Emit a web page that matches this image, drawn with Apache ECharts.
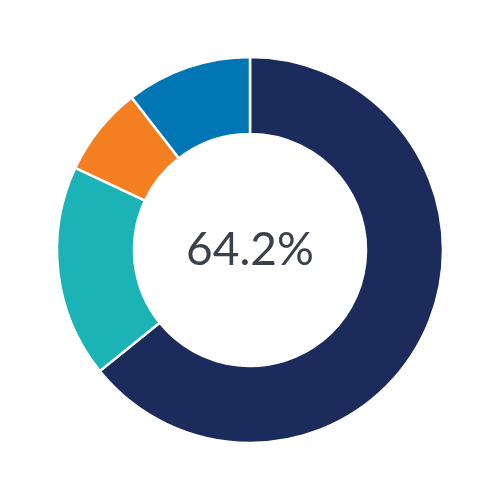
<!DOCTYPE html>
<html><head><meta charset="utf-8">
<script src="https://cdn.jsdelivr.net/npm/echarts@6/dist/echarts.min.js"></script>
<style>html,body{margin:0;padding:0;background:#fff}#c{width:500px;height:500px}</style>
</head><body><div id="c"></div>
<script>
const categories = ['A', 'B', 'C', 'D'];
const values = [64.2, 17.8, 7.5, 10.5];
const colors = ['#1b2b5b', '#1bb3b6', '#f47f20', '#0076b5'];
const centerLabel = '64.2%';

const chart = echarts.init(document.getElementById('c'), null, {renderer: 'canvas'});
chart.setOption({
  animation: false,
  title: {
    text: centerLabel,
    left: 'center', top: 222,
    textStyle: {fontFamily: 'Lato', fontSize: 46, fontWeight: 'normal', color: '#3a414a'}
  },
  series: [{
    type: 'pie',
    center: ['50%', '50%'],
    radius: ['46.4%', '77.2%'],
    startAngle: 90,
    clockwise: true,
    label: {show: false},
    labelLine: {show: false},
    emphasis: {disabled: true},
    itemStyle: {borderColor: '#fff', borderWidth: 2.5},
    data: categories.map((c, i) => ({name: c, value: values[i], itemStyle: {color: colors[i]}}))
  }]
});
</script></body></html>
